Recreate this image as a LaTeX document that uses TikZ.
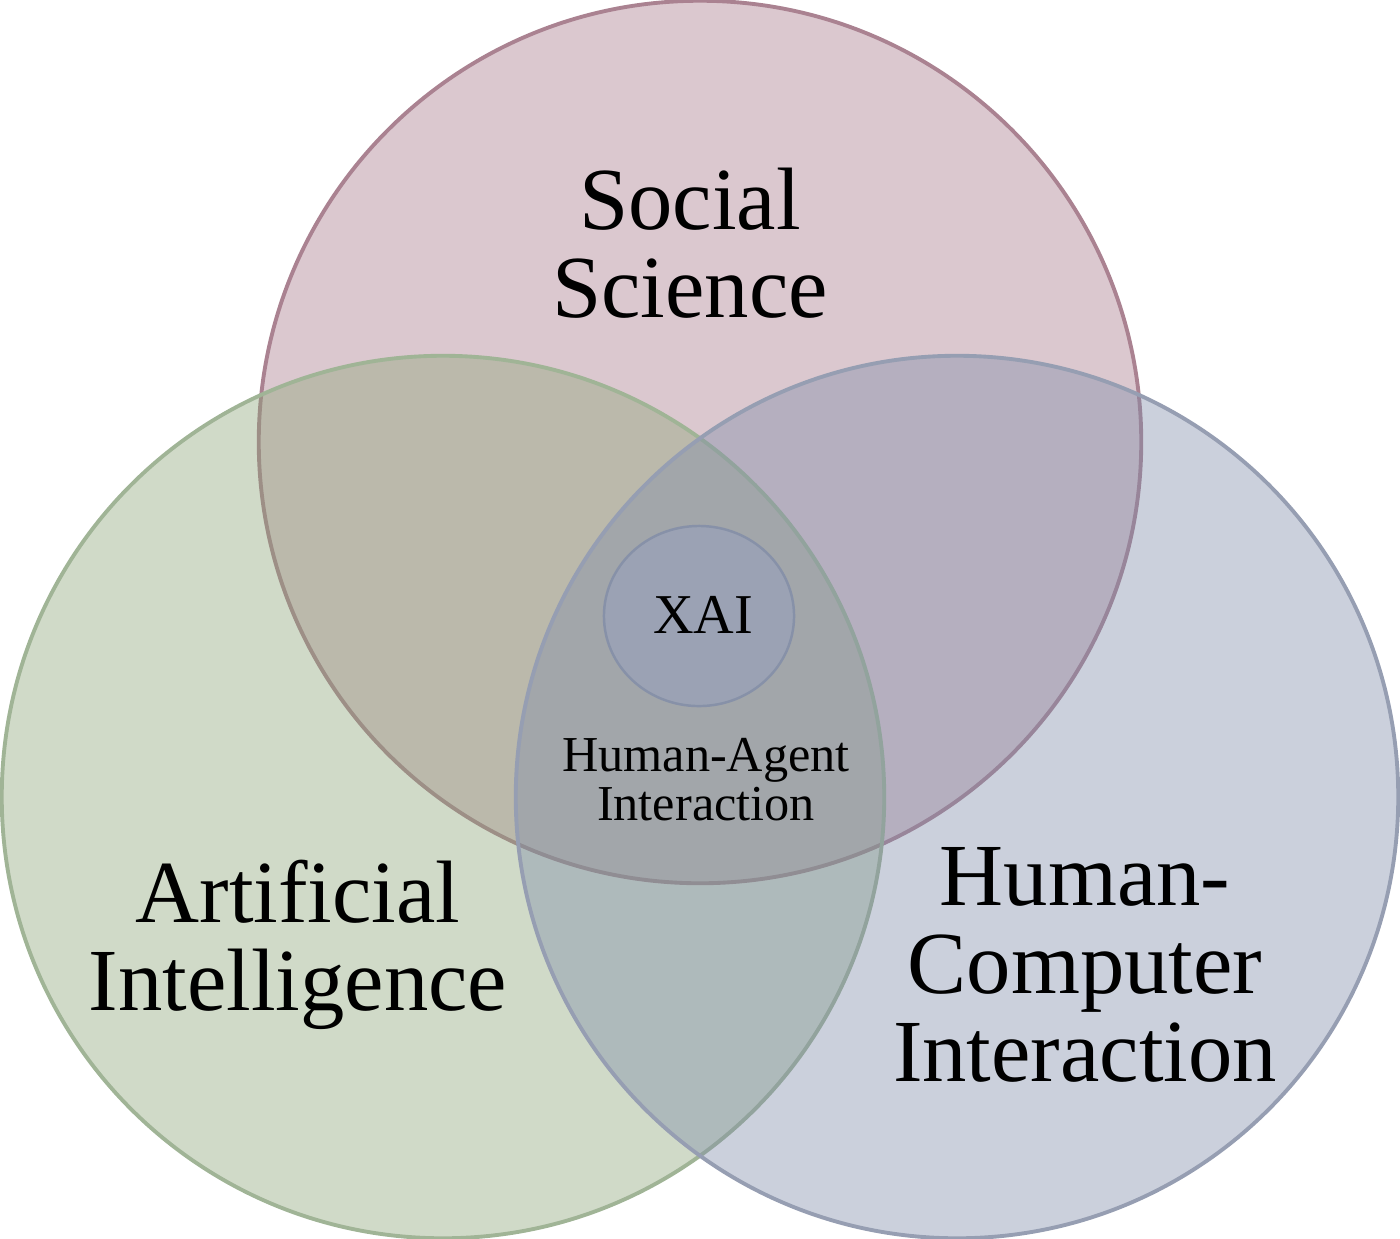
\documentclass[tikz,border=0pt]{standalone}
\usepackage{fontspec}
\usetikzlibrary{shapes.geometric}
\setmainfont{Liberation Serif}
\definecolor{cTop}{RGB}{165,117,135}
\definecolor{cLeft}{RGB}{138,163,118}
\definecolor{cRight}{RGB}{125,138,168}
\definecolor{bTop}{RGB}{170,130,145}
\definecolor{bLeft}{RGB}{160,180,150}
\definecolor{bRight}{RGB}{150,158,178}
\definecolor{cX}{RGB}{150,160,190}
\definecolor{bX}{RGB}{135,145,168}
\begin{document}
\begin{tikzpicture}[x=0.01cm,y=-0.01cm,
  venn/.style={circle,minimum size=8.82cm,inner sep=0,fill opacity=0.4,draw opacity=1,line width=1.1pt},
  big/.style={align=center,font=\fontsize{25.2}{25}\selectfont},
  small/.style={align=center,font=\fontsize{14.3}{14}\selectfont}]
\useasboundingbox (0,0) rectangle (1400,1238);
\node[venn,fill=cTop,draw=bTop] (top) at (700,442) {};
\node[venn,fill=cLeft,draw=bLeft] (left) at (443,797) {};
\node[venn,fill=cRight,draw=bRight] (right) at (957,797) {};
\node[ellipse,minimum width=1.9cm,minimum height=1.8cm,inner sep=0,fill=cX,fill opacity=0.55,draw=bX,draw opacity=1,line width=0.7pt] (xai) at (699,616) {};
\node[font=\fontsize{16}{18}\selectfont] (xait) at (703,615) {XAI};
\node[big] (ss) at (690,243) {Social\\Science};
\node[big] (ai) at (298,945) {Artificial\\Intelligence};
\node[big] (hci) at (1085,965) {Human-\\Computer\\Interaction};
\node[small] (hai) at (706,780) {Human-Agent\\Interaction};
\end{tikzpicture}
\end{document}
